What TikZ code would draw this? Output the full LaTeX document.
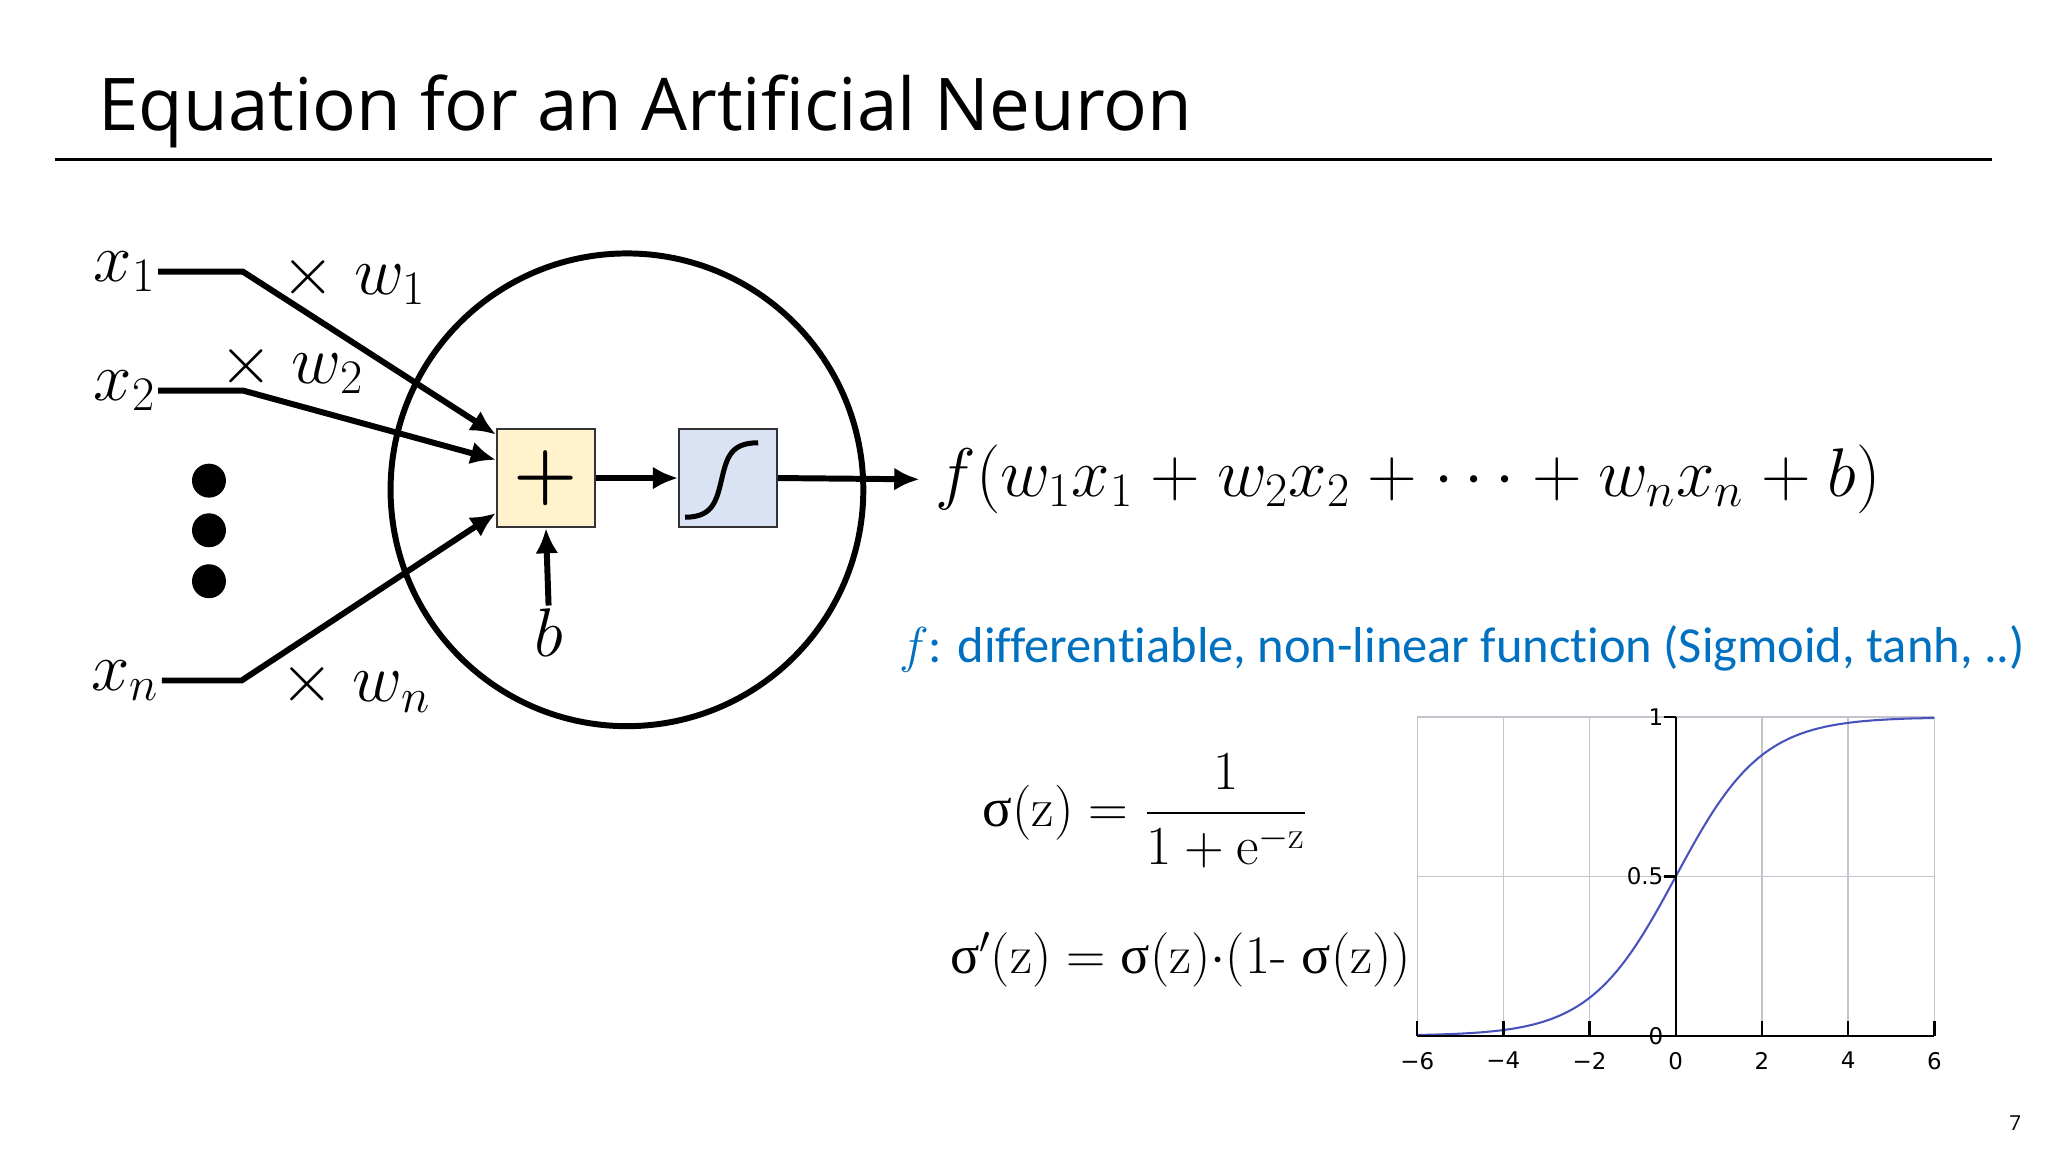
\RequirePackage{fix-cm}
\documentclass[tikz,border=0pt]{standalone}
\usepackage{amsmath,amssymb}
\usepackage{fontspec}
\usepackage{xcolor}
\usepackage{tikz}
\usetikzlibrary{shapes,arrows.meta,positioning}

\newfontfamily\titlefont{Open Sans}
\newfontfamily\notefont[Ligatures={NoCommon}]{Carlito}
\newfontfamily\greekfont{Liberation Serif}
\newfontfamily\tickfont{DejaVu Sans}
\newcommand{\sg}{\text{\greekfont σ}}

\definecolor{sumfill}{RGB}{255,242,204}
\definecolor{actfill}{RGB}{218,227,243}
\definecolor{noteblue}{RGB}{0,112,192}
\definecolor{curveblue}{RGB}{72,82,189}
\definecolor{gridgray}{RGB}{196,196,204}

\begin{document}
\begin{tikzpicture}[x=0.02cm, y=-0.02cm,
  >={Latex[length=11pt,width=10pt]},
  wire/.style={line width=2.6pt},
  neuron/.style={circle, draw, line width=2.6pt, minimum size=206pt, inner sep=0pt},
  opbox/.style={rectangle, draw=black!80, line width=0.9pt, minimum size=42.7pt, inner sep=0pt},
  dot/.style={circle, fill=black, minimum size=14.8pt, inner sep=0pt},
  lbl/.style={font=\fontsize{30}{36}\selectfont, inner sep=1pt},
  gridline/.style={gridgray, line width=0.6pt},
  axisline/.style={black, line width=1.1pt},
  sigcurve/.style={curveblue, line width=0.9pt},
  ticklbl/.style={font=\tickfont\fontsize{10}{12}\selectfont, inner sep=0pt}
]
\path[fill=white] (0,0) rectangle (1568,882);
\useasboundingbox (0,0) rectangle (1568,882);

% title
\node[anchor=base west, font=\titlefont\fontsize{31.7}{38}\selectfont, inner sep=0pt] (title) at (75,100) {Equation for an Artificial Neuron};
\draw[line width=1.5pt] (42,122) -- (1525,122);

% neuron
\node[neuron] (cell) at (480,375) {};
\node[opbox, fill=sumfill] (sum) at (418,366) {\fontsize{32}{32}\selectfont$\boldsymbol{+}$};
\node[opbox, fill=actfill, right=35.8pt of sum] (act) {};
\draw[line width=2.2pt, shift={(act.center)}] (-33,30) .. controls (-12,30) and (-9,18) .. (-5,1)
  .. controls (-1,-16) and (2,-27) .. (23,-27);

% inputs
\node[lbl, anchor=east] (in1) at (121,208) {$x_1$};
\node[lbl, anchor=east] (in2) at (121,299) {$x_2$};
\node[lbl, anchor=east] (inn) at (124,521) {$x_n$};
\coordinate (k1) at (186,208);
\coordinate (k2) at (186,299);
\coordinate (kn) at (185,521);

\node[dot] (d1) at (160,368) {};
\node[dot] (d2) at (160,406) {};
\node[dot] (d3) at (160,445) {};

\draw[wire,->] (in1.east) -- (k1) -- (sum.139);
\draw[wire,->] (in2.east) -- (k2) -- (sum.160);
\draw[wire,->] (inn.east) -- (kn) -- (sum.215);

\node[lbl] (wt1) at (271,214) {$\times\; w_1$};
\node[lbl] (wt2) at (223,282) {$\times\; w_2$};
\node[lbl] (wtn) at (272,526) {$\times\; w_n$};

% bias and output
\node[lbl] (bias) at (420,484) {$b$};
\draw[wire,->] (bias.north) -- (sum.south);
\draw[wire,->] (sum.east) -- (act.west);

\node[anchor=west, font=\fontsize{30}{36}\selectfont, inner sep=0pt, outer sep=7pt] (outp) at (704,367) {\medmuskip=4.5mu$f(w_1x_1+w_2x_2+\cdots+w_nx_n+b)$};
\draw[wire,->] (act.east) -- (outp.west);

% activation note
\node[anchor=base west, font=\notefont\fontsize{22}{26}\selectfont, text=noteblue, inner sep=0pt] (note) at (688,507) {$f$: differentiable, non-linear function (Sigmoid, tanh, ..)};

\node[anchor=base west, font=\fontsize{24}{28}\selectfont, inner sep=0pt] (sig) at (752,633) {$\sg(\mathrm{z}) = \dfrac{1}{1+\mathrm{e}^{-\mathrm{z}}}$};
\node[anchor=base west, font=\fontsize{23.7}{28}\selectfont, inner sep=0pt] (dsig) at (727,745) {$\sg'(\mathrm{z}) = \sg(\mathrm{z}){\cdot}(1\text{-}\;\sg(\mathrm{z}))$};

% sigmoid plot
\begin{scope}[shift={(1283,793)}, x=0.66cm, y=4.88cm]
  \foreach \u in {-6,-4,-2,2,4,6} \draw[gridline] (\u,0) -- (\u,1);
  \draw[gridline] (-6,0.5) -- (6,0.5);
  \draw[gridline] (-6,1) -- (6,1);
  \draw[sigcurve] plot[domain=-6:6, samples=120] (\x,{1/(1+exp(-\x))});
  \draw[axisline] (-6,0) -- (6,0);
  \draw[axisline] (0,0) -- (0,1);
  \foreach \u/\t [count=\i] in {-6/−6,-4/−4,-2/−2,0/0,2/2,4/4,6/6} {
    \draw[axisline] (\u,0) -- (\u,0.045);
    \node[ticklbl, anchor=north] (xt\i) at (\u,-0.05) {\t};
  }
  \foreach \v [count=\i] in {0,0.5,1} {
    \draw[axisline] (0,\v) -- (-0.28,\v);
    \node[ticklbl, anchor=east] (yt\i) at (-0.28,\v) {\v};
  }
\end{scope}

\node[font=\titlefont\fontsize{9}{10}\selectfont] (pg) at (1543,860) {7};
\end{tikzpicture}
\end{document}
